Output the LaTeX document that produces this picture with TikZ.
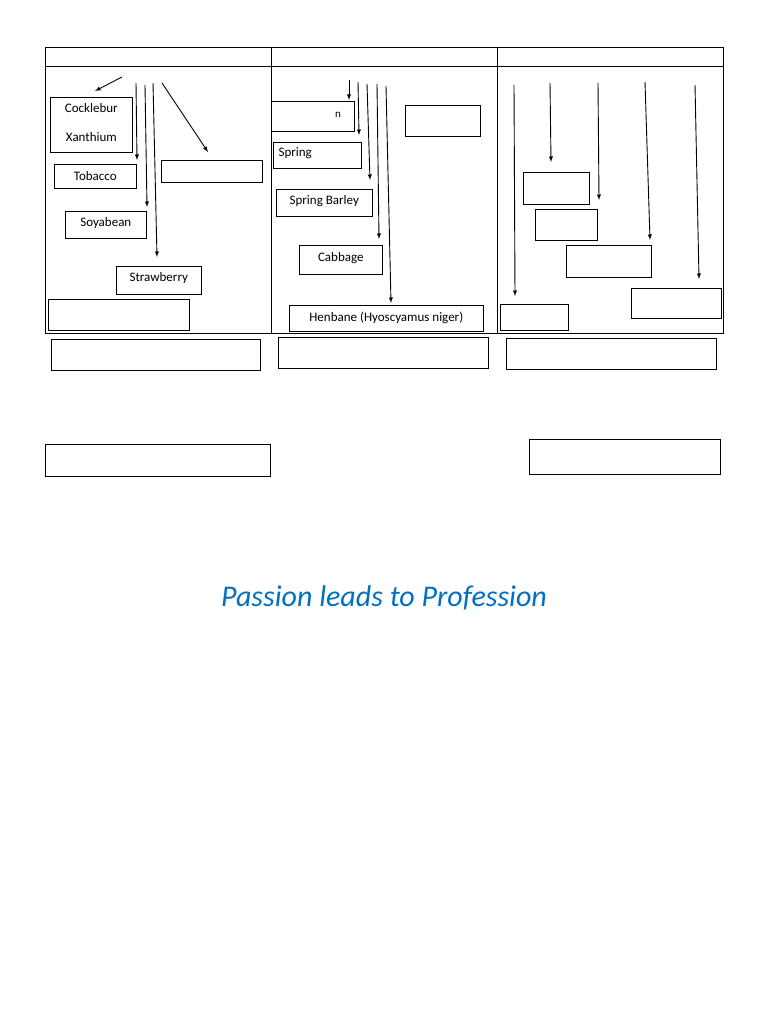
\documentclass[tikz,border=0pt]{standalone}
\usepackage{fontspec}
\setmainfont{Carlito}
\usetikzlibrary{calc,positioning,arrows}
\tikzset{
	box/.style={draw,line width=0.6pt,inner sep=0pt,anchor=north west,font=\fontsize{13}{15}\selectfont},
	lbl/.style={font=\fontsize{13}{15}\selectfont},
	arr/.style={-latex,line width=0.9pt,>=latex}
}
\newcommand{\bx}[5]{\node(#1) [box,minimum width=#4pt,minimum height=#5pt] at (#2,#3) {};}
\begin{document}
\begin{tikzpicture}[x=1pt,y=-1pt]
	\useasboundingbox (0,0) rectangle (768,1024);
	% table
	\draw[line width=0.6pt] (45,47) rectangle (723,333);
	\draw[line width=0.6pt] (45,66) -- (723,66) (271,47) -- (271,333) (497,47) -- (497,333);
	% first column
	\bx{cock}{50}{97}{82}{55}
	\node at ($(cock.north)+(0,11)$) [lbl] {Cocklebur};
	\node at ($(cock.north)+(0,40)$) [lbl] {Xanthium};
	\bx{tob}{54}{164}{82}{24}
	\node at (tob) [lbl] {Tobacco};
	\bx{e1}{161}{160}{101}{22}
	\bx{soy}{65}{211}{81}{27}
	\node at ($(soy)+(0,-2)$) [lbl] {Soyabean};
	\bx{straw}{116}{266}{85}{28}
	\node at ($(straw)+(0,-2)$) [lbl] {Strawberry};
	\bx{e2}{48}{299}{141}{31}
	\coordinate (a0) at (122,77); \coordinate (a0e) at (95,91);
	\coordinate (a1) at (136,83); \coordinate (a1e) at (137,160);
	\coordinate (a2) at (145,85); \coordinate (a2e) at (147,207);
	\coordinate (a3) at (153,83); \coordinate (a3e) at (157,257);
	\coordinate (a4) at (162,83); \coordinate (a4e) at (208,152);
	\foreach \i in {0,...,4} \draw[arr] (a\i) -- (a\i e);
	% second column
	\bx{nbox}{271}{101}{83}{30}
	\node at (338,115) [font=\fontsize{11}{13}\selectfont] {n};
	\bx{e3}{405}{105}{75}{31}
	\bx{spr}{273}{142}{88}{26}
	\node at ($(spr.west)+(2,-2)$) [anchor=west,lbl] {Spring};
	\bx{barley}{276}{189}{96}{27}
	\node at ($(barley)+(0,-2)$) [lbl] {Spring Barley};
	\bx{cab}{299}{245}{83}{29}
	\node at ($(cab)+(0,-2)$) [lbl] {Cabbage};
	\bx{hen}{289}{305}{194}{26}
	\node at (hen) [lbl] {Henbane (Hyoscyamus niger)};
	\coordinate (b0) at (349,80); \coordinate (b0e) at (349,100);
	\coordinate (b1) at (358,82); \coordinate (b1e) at (359,135);
	\coordinate (b2) at (367,84); \coordinate (b2e) at (370,180);
	\coordinate (b3) at (377,84); \coordinate (b3e) at (379,239);
	\coordinate (b4) at (386,86); \coordinate (b4e) at (391,303);
	\foreach \i in {0,...,4} \draw[arr] (b\i) -- (b\i e);
	% third column
	\bx{c1}{523}{172}{66}{32}
	\bx{c2}{535}{209}{62}{31}
	\bx{c3}{566}{245}{85}{32}
	\bx{c4}{631}{288}{90}{30}
	\bx{c5}{500}{304}{68}{26}
	\coordinate (d0) at (514,85); \coordinate (d0e) at (515,296);
	\coordinate (d1) at (550,83); \coordinate (d1e) at (551,162);
	\coordinate (d2) at (598,83); \coordinate (d2e) at (599,200);
	\coordinate (d3) at (645,82); \coordinate (d3e) at (650,240);
	\coordinate (d4) at (695,85); \coordinate (d4e) at (699,279);
	\foreach \i in {0,...,4} \draw[arr] (d\i) -- (d\i e);
	% below the table
	\bx{f1}{51}{339}{209}{31}
	\bx{f2}{278}{337}{210}{31}
	\bx{f3}{506}{338}{210}{31}
	\bx{f4}{45}{444}{225}{32}
	\bx{f5}{529}{439}{191}{35}
	\node(motto) at (384,598) [text={rgb,255:red,0;green,112;blue,192},font=\fontsize{30}{34}\selectfont\itshape] {Passion leads to Profession};
\end{tikzpicture}
\end{document}
